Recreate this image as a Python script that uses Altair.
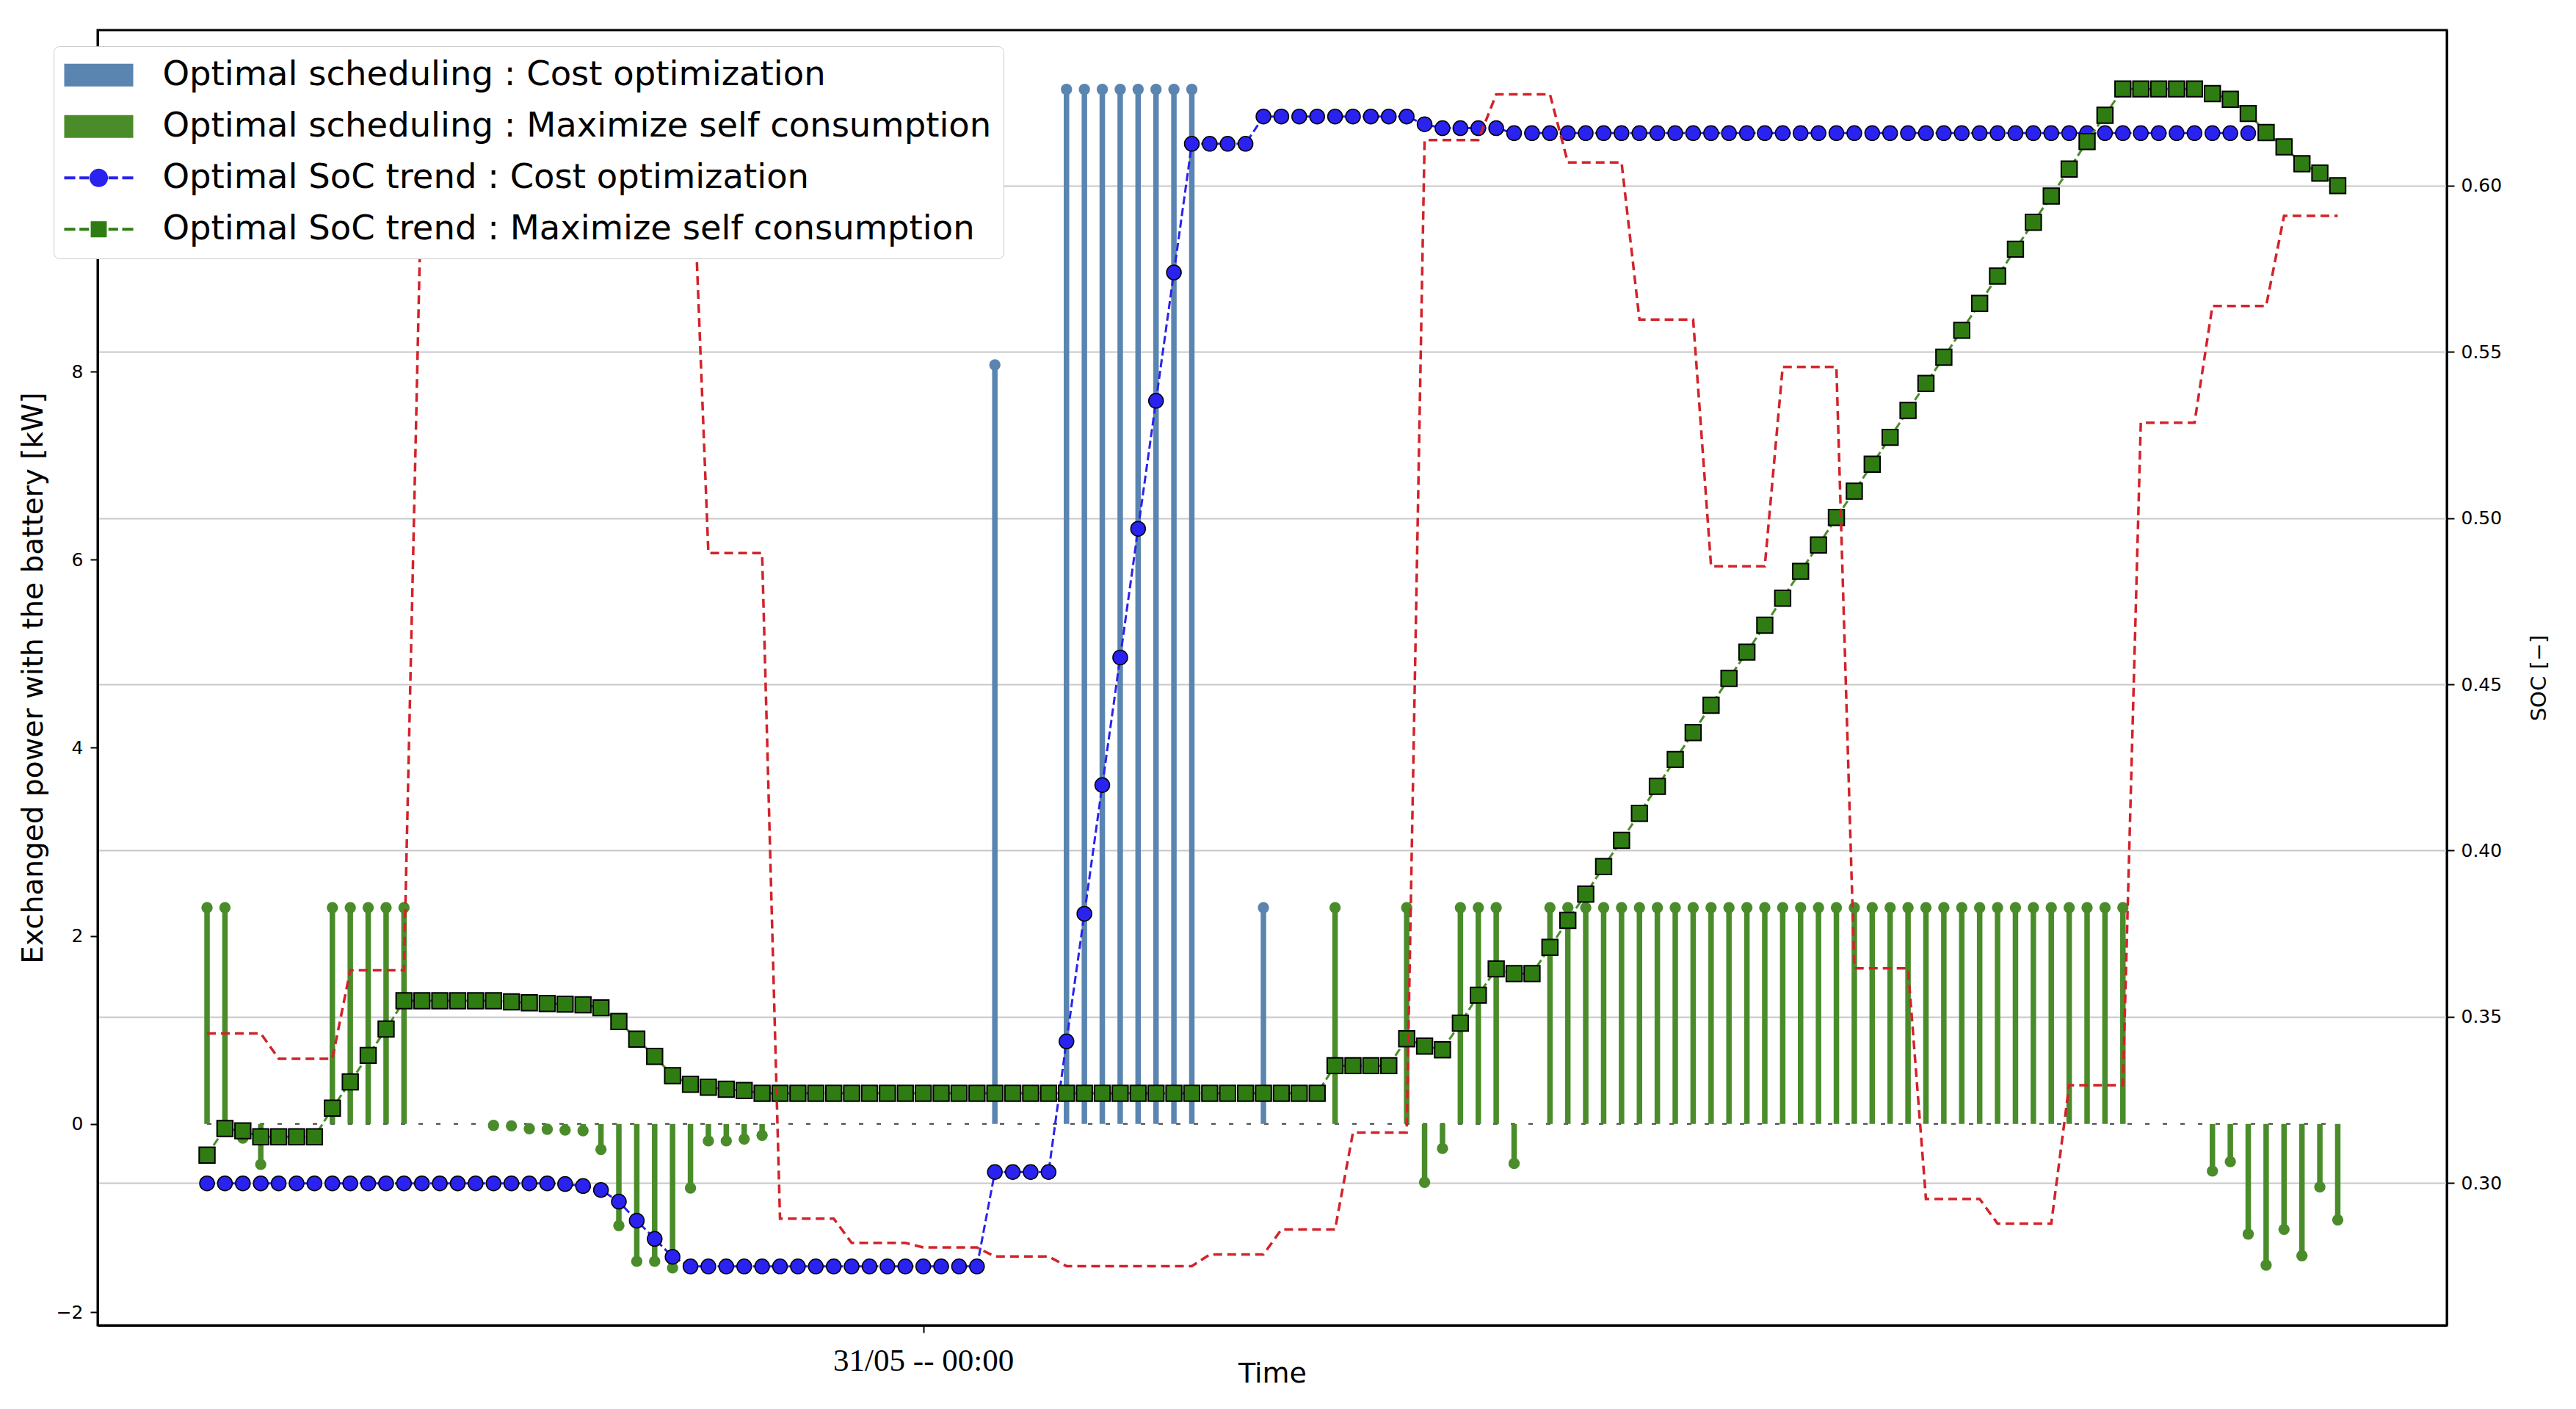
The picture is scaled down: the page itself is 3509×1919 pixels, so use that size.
import altair as alt
import pandas as pd

N = 120
times = pd.date_range("2020-05-30 14:00", periods=N, freq="15min").strftime("%Y-%m-%dT%H:%M:%S").tolist()

# Exchanged power [kW] - cost optimization (blue stems)
p_cost = [0.0] * 44 + [8.07] + [0.0] * 3 + [11.0] * 8 + [0.0] * 3 + [2.30] + [0.0] * 60

# Exchanged power [kW] - maximize self consumption (green stems)
p_self = ([2.30, 2.30, -0.15, -0.43] + [0.0] * 3 + [2.30] * 5 + [0.0] * 4 +
          [-0.015, -0.02, -0.05, -0.056, -0.065, -0.071, -0.27, -1.08, -1.46, -1.46,
           -1.53, -0.68, -0.18, -0.18, -0.16, -0.12] +
          [0.0] * 31 + [2.30] + [0.0] * 3 +
          [2.30, -0.62, -0.26, 2.30, 2.30, 2.30, -0.42, 0.0] +
          [2.30] * 33 + [0.0] * 4 +
          [-0.50, -0.40, -1.17, -1.50, -1.12, -1.40, -0.67, -1.02])

# SoC trend - cost optimization (blue circles)
soc_cost = ([0.2999] * 20 + [0.2997, 0.2991, 0.2979, 0.2944, 0.2887, 0.2832, 0.2778] +
            [0.2749] * 17 + [0.3033] * 4 +
            [0.3426, 0.3810, 0.4197, 0.4581, 0.4968, 0.5353, 0.5739] +
            [0.6126] * 4 + [0.6208] * 9 + [0.6185] + [0.6173] * 4 + [0.6158] * 42 + [None] * 5)

# SoC trend - maximize self consumption (green squares)
soc_self = ([0.3084, 0.3164, 0.3157, 0.3139, 0.3139, 0.3139, 0.3139, 0.3225, 0.3304, 0.3384,
             0.3463, 0.3548, 0.3548, 0.3548, 0.3548, 0.3548, 0.3548, 0.3545, 0.3542, 0.3540,
             0.3538, 0.3536, 0.3527, 0.3486, 0.3433, 0.3381, 0.3323, 0.3297, 0.3288, 0.3282,
             0.3278, 0.3270] +
            [0.3270] * 31 + [0.3353] * 4 +
            [0.3434, 0.3412, 0.3401, 0.3481, 0.3565, 0.3644, 0.3630, 0.3630] +
            [0.3709, 0.3790, 0.3869, 0.3952, 0.4031, 0.4112, 0.4193, 0.4274, 0.4355, 0.4437,
             0.4518, 0.4597, 0.4678, 0.4759, 0.4840, 0.4919, 0.5002, 0.5081, 0.5162, 0.5243,
             0.5324, 0.5405, 0.5484, 0.5565, 0.5646, 0.5728, 0.5809, 0.5890, 0.5969, 0.6050,
             0.6133, 0.6212, 0.6291] +
            [0.6291] * 4 +
            [0.6277, 0.6260, 0.6217, 0.6160, 0.6117, 0.6066, 0.6038, 0.6000])

# Hourly price signal (red dashed), drawn on the SoC scale
price_hourly = [0.345, 0.3374, 0.364, 0.608, 0.615, 0.630, 0.626, 0.4895, 0.2893, 0.2820,
                0.2806, 0.2779, 0.2750, 0.2750, 0.2785, 0.2860, 0.3152, 0.6137, 0.6275, 0.6070,
                0.5597, 0.4855, 0.5455, 0.3646, 0.2952, 0.2878, 0.3294, 0.5287, 0.5638, 0.5909]
price = [v for v in price_hourly for _ in range(4)]

series_names = ["Optimal scheduling : Cost optimization",
                "Optimal scheduling : Maximize self consumption",
                "Optimal SoC trend : Cost optimization",
                "Optimal SoC trend : Maximize self consumption"]

y_ticks_left = [-2, 0, 2, 4, 6, 8]
y_ticks_right = [0.30, 0.35, 0.40, 0.45, 0.50, 0.55, 0.60]

df = pd.DataFrame({"time": times, "p_cost": p_cost, "p_self": p_self,
                   "soc_cost": soc_cost, "soc_self": soc_self, "price": price})

BLUE_STEM = "#5b85b1"
GREEN_STEM = "#4a8c2a"
BLUE_SOC = "#2a22ee"
GREEN_SOC = "#2f7d12"
RED = "#d2232a"

W, H = 3200, 1764

x_scale = alt.Scale(domain=[alt.DateTime(year=2020, month=5, date=30, hours=12, minutes=28, seconds=21),
                            alt.DateTime(year=2020, month=5, date=31, hours=21, minutes=16, seconds=21)])
x_axis = alt.Axis(values=[alt.DateTime(year=2020, month=5, date=31, hours=0, minutes=0)],
                  format="%d/%m -- %H:%M", formatType="time", grid=False,
                  labelFont="Liberation Serif", labelFontSize=43, labelColor="black",
                  labelLimit=2000, labelPadding=17, tickSize=10, tickWidth=2, tickColor="black",
                  domainColor="black", domainWidth=3,
                  title="Time", titleFont="DejaVu Sans", titleFontSize=38,
                  titleFontWeight="normal", titleColor="black",
                  titleX=W / 2, titleY=66, titleBaseline="middle", titleAlign="center")
x_enc = alt.X("time:T", scale=x_scale, axis=x_axis)

yl_scale = alt.Scale(domain=[-2.14, 11.63], nice=False, zero=False)
yl_axis = alt.Axis(values=y_ticks_left, grid=False, orient="left",
                   labelFont="DejaVu Sans", labelFontSize=25, labelColor="black", labelPadding=10,
                   tickSize=10, tickWidth=2, tickColor="black", domainColor="black", domainWidth=3,
                   title="Exchanged power with the battery  [kW]", titleFont="DejaVu Sans",
                   titleFontSize=39, titleFontWeight="normal", titleColor="black",
                   titleAngle=270, titleX=-88, titleY=H / 2, titleAlign="center",
                   titleBaseline="middle")

yr_scale = alt.Scale(domain=[0.2572, 0.6468], nice=False, zero=False)
yr_axis = alt.Axis(values=y_ticks_right, format=".2f", grid=True, gridColor="#c8c8c8", gridWidth=2,
                   orient="right", labelFont="DejaVu Sans", labelFontSize=25, labelColor="black",
                   labelPadding=9, tickSize=10, tickWidth=2, tickColor="black",
                   domainColor="black", domainWidth=3,
                   title="SOC [\u2212]", titleFont="DejaVu Sans", titleFontSize=29,
                   titleFontWeight="normal", titleColor="black",
                   titleAngle=270, titleX=125, titleY=H / 2, titleAlign="center",
                   titleBaseline="middle")

base = alt.Chart(df)

baseline = base.mark_line(color="#3a3a3a", strokeDash=[6, 18], strokeWidth=2).encode(
    x=x_enc, y=alt.YDatum(0, scale=yl_scale, axis=yl_axis))

blue_stems = base.transform_filter("datum.p_cost != 0").mark_rule(
    color=BLUE_STEM, strokeWidth=7.5).encode(
    x=x_enc, y=alt.Y("p_cost:Q", scale=yl_scale, axis=yl_axis), y2=alt.datum(0))
blue_heads = base.transform_filter("datum.p_cost != 0").mark_circle(
    color=BLUE_STEM, size=236, opacity=1).encode(
    x=x_enc, y=alt.Y("p_cost:Q", scale=yl_scale, axis=yl_axis))

green_stems = base.transform_filter("datum.p_self != 0").mark_rule(
    color=GREEN_STEM, strokeWidth=7.5).encode(
    x=x_enc, y=alt.Y("p_self:Q", scale=yl_scale, axis=yl_axis), y2=alt.datum(0))
green_heads = base.transform_filter("datum.p_self != 0").mark_circle(
    color=GREEN_STEM, size=236, opacity=1).encode(
    x=x_enc, y=alt.Y("p_self:Q", scale=yl_scale, axis=yl_axis))

# legend symbols as custom paths (unit = 21 px, symbol spans 94 px, shifted right)
rect_path = "M-1.18,-0.739H3.298V0.739H-1.18Z"
dashes = ("M-1.18,-0.09H-0.462V0.09H-1.18Z M-0.193,-0.09H0.433V0.09H-0.193Z "
          "M1.687,-0.09H2.313V0.09H1.687Z M2.582,-0.09H3.298V0.09H2.582Z ")
circle_path = dashes + "M1.66,0A0.6,0.6 0 1,1 0.46,0A0.6,0.6 0 1,1 1.66,0Z"
square_path = dashes + "M0.54,-0.52H1.58V0.52H0.54Z"

leg = alt.Legend(title=None, orient="none", legendX=-60, legendY=22, direction="vertical",
                 labelFont="DejaVu Sans", labelFontSize=46.5, labelColor="black", labelLimit=3000,
                 labelOffset=86, labelBaseline="middle", symbolSize=1764, symbolStrokeWidth=0,
                 symbolOpacity=1, fillColor="white", strokeColor="#cccccc", padding=16,
                 cornerRadius=8, rowPadding=23, zindex=1)

legend_df = pd.DataFrame({"series": series_names})
legend_layer = alt.Chart(legend_df).transform_filter("false").mark_point(filled=True).encode(
    fill=alt.Fill("series:N", scale=alt.Scale(domain=series_names,
                                             range=[BLUE_STEM, GREEN_STEM, BLUE_SOC, GREEN_SOC]),
                  legend=leg),
    shape=alt.Shape("series:N", scale=alt.Scale(domain=series_names,
                                               range=[rect_path, rect_path, circle_path, square_path]),
                    legend=leg))

left = alt.layer(baseline, blue_stems, blue_heads, green_stems, green_heads, legend_layer)

soc_c_line = base.mark_line(color=BLUE_SOC, strokeDash=[11, 5], strokeWidth=3).encode(
    x=x_enc, y=alt.Y("soc_cost:Q", scale=yr_scale, axis=yr_axis))
soc_c_pts = base.mark_point(shape="circle", filled=True, fill=BLUE_SOC, stroke="black",
                            strokeWidth=1.5, size=400, opacity=1).encode(
    x=x_enc, y=alt.Y("soc_cost:Q", scale=yr_scale, axis=yr_axis))
soc_s_line = base.mark_line(color=GREEN_STEM, strokeDash=[11, 5], strokeWidth=3).encode(
    x=x_enc, y=alt.Y("soc_self:Q", scale=yr_scale, axis=yr_axis))
soc_s_pts = base.mark_point(shape="square", filled=True, fill=GREEN_SOC, stroke="black",
                            strokeWidth=2, size=460, opacity=1).encode(
    x=x_enc, y=alt.Y("soc_self:Q", scale=yr_scale, axis=yr_axis))
price_line = base.mark_line(color=RED, strokeDash=[12, 7], strokeWidth=3.5, clip=True).encode(
    x=x_enc, y=alt.Y("price:Q", scale=yr_scale, axis=yr_axis))

right = alt.layer(soc_c_line, soc_c_pts, soc_s_line, soc_s_pts, price_line)

chart = alt.layer(left, right).resolve_scale(y="independent").properties(
    width=W, height=H,
    padding={"left": 125, "top": 33, "right": 168, "bottom": 106},
    autosize=alt.AutoSizeParams(type="none"),
    background="white",
).configure_view(stroke="black", strokeWidth=3)

chart.save("out.html", embed_options={"renderer": "svg", "actions": False})
